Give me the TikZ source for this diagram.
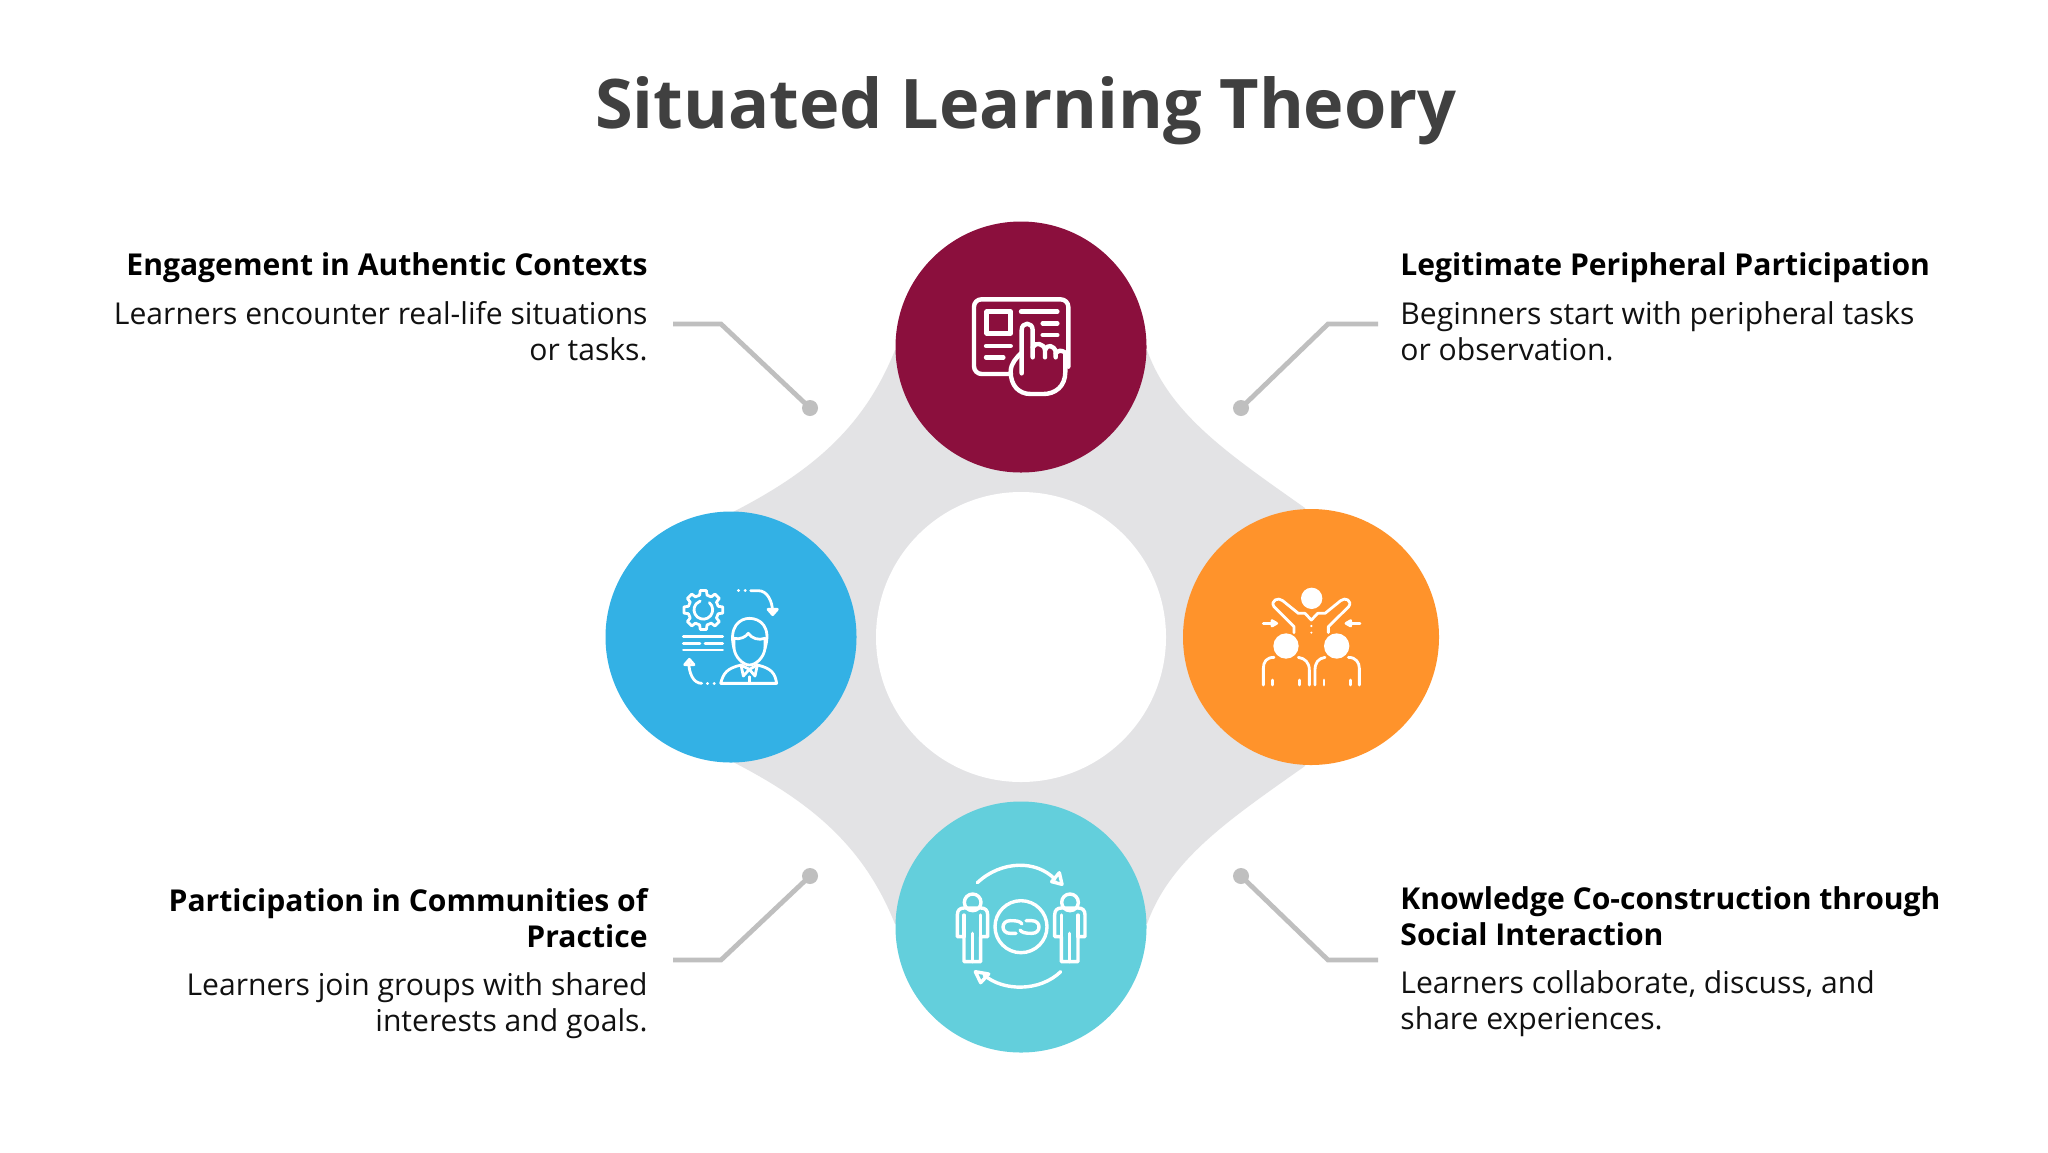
\documentclass[tikz,border=0pt]{standalone}
\usepackage{fontspec}
\setmainfont{Open Sans}
\definecolor{wine}{HTML}{8B0F3D}
\definecolor{sky}{HTML}{33B1E5}
\definecolor{amber}{HTML}{FF932B}
\definecolor{teal2}{HTML}{63CFDC}
\definecolor{hub}{HTML}{E3E3E5}
\definecolor{lead}{HTML}{BFBFBF}
\definecolor{titleink}{HTML}{404040}
\definecolor{ink}{HTML}{111111}
\tikzset{
  disc/.style={circle,inner sep=0pt,minimum size=125.5pt,draw=none},
  leaddot/.style={circle,fill=lead,inner sep=0pt,minimum size=8pt,draw=none},
  leadline/.style={draw=lead,line width=2.4pt},
  headl/.style={font=\fontsize{15.05}{18}\selectfont\bfseries,text=black,align=right,anchor=north east,inner sep=0pt},
  headr/.style={font=\fontsize{15.05}{18}\selectfont\bfseries,text=black,align=left,anchor=north west,inner sep=0pt},
  bodyl/.style={font=\fontsize{15.05}{18}\selectfont,text=ink,align=right,anchor=north east,inner sep=0pt},
  bodyr/.style={font=\fontsize{15.05}{18}\selectfont,text=ink,align=left,anchor=north west,inner sep=0pt},
  ic/.style={draw=white,line cap=round,line join=round},
  iconframe/.style={x=0.16667pt,y=-0.16667pt},
}
\begin{document}
\begin{tikzpicture}[x=0.5pt,y=-0.5pt]
\useasboundingbox (0,0) rectangle (2048,1152);
\fill[white] (0,0) rectangle (2048,1152);

\node[font=\fontsize{34.2}{38}\selectfont\bfseries,text=titleink,inner sep=0pt] (title) at (1026,111) {Situated Learning Theory};

% hub
\fill[hub] (895,350) .. controls (865,425) and (815,470) .. (733,512)
  -- (733,762) .. controls (815,804) and (865,849) .. (895,924)
  -- (1147,924) .. controls (1170,859) and (1230,819) .. (1305,766)
  -- (1305,508) .. controls (1230,455) and (1170,415) .. (1147,350) -- cycle;
\node[circle,fill=white,inner sep=0pt,minimum size=145pt] (centre) at (1021,637) {};
\node[disc,fill=wine] (top) at (1021,347) {};
\node[disc,fill=sky] (left) at (731,637) {};
\node[disc,fill=amber,minimum size=128pt] (right) at (1311,637) {};
\node[disc,fill=teal2] (bottom) at (1021,927) {};

% leaders
\node[leaddot] (d1) at (810,408) {};
\node[leaddot] (d2) at (1241,408) {};
\node[leaddot] (d3) at (810,876) {};
\node[leaddot] (d4) at (1241,876) {};
\coordinate (a1) at (673,324); \coordinate (b1) at (721,324);
\coordinate (a2) at (1378,324); \coordinate (b2) at (1328,324);
\coordinate (a3) at (673,960); \coordinate (b3) at (721,960);
\coordinate (a4) at (1378,960); \coordinate (b4) at (1328,960);
\draw[leadline] (a1) -- (b1) -- (d1.center);
\draw[leadline] (a2) -- (b2) -- (d2.center);
\draw[leadline] (a3) -- (b3) -- (d3.center);
\draw[leadline] (a4) -- (b4) -- (d4.center);

% text
\node[headl] (h1) at (648,252) {Engagement in Authentic Contexts};
\node[bodyl] (t1) at (648,301) {Learners encounter real-life situations\\or tasks.};
\node[headr] (h2) at (1400,252) {Legitimate Peripheral Participation};
\node[bodyr] (t2) at (1400,301) {Beginners start with peripheral tasks\\or observation.};
\node[headl] (h3) at (648,888) {Participation in Communities of\\Practice};
\node[bodyl] (t3) at (648,972) {Learners join groups with shared\\interests and goals.};
\node[headr] (h4) at (1400,886) {Knowledge Co-construction through\\Social Interaction};
\node[bodyr] (t4) at (1400,970) {Learners collaborate, discuss, and\\share experiences.};

% icon 1
\begin{scope}[shift={(940,270)},iconframe,ic,line width=2.2pt]
\draw (208,312) -- (125,312) arc[start angle=90,end angle=180,radius=23] -- (102,110) arc[start angle=180,end angle=270,radius=22] -- (362,88) arc[start angle=270,end angle=360,radius=23] -- (385,290);
\draw (140,125) rectangle (212,190);
\draw (243,125) -- (352,125);
\draw (308,160) -- (352,160);
\draw (308,195) -- (352,195);
\draw (138,228) -- (212,228);
\draw (138,262) -- (190,262);
\draw (245,310) -- (245,180) .. controls (245,155) and (278,155) .. (278,180) -- (278,262);
\draw (278,232) .. controls (285,215) and (312,220) .. (315,240) -- (315,262);
\draw (315,240) .. controls (320,222) and (342,225) .. (347,245) -- (347,262);
\draw (347,250) .. controls (355,240) and (365,240) .. (376,248) -- (376,305) .. controls (376,350) and (345,372) .. (310,372) -- (272,372) .. controls (235,372) and (212,345) .. (212,305) .. controls (212,280) and (230,262) .. (245,248);
\end{scope}

% icon 2
\begin{scope}[shift={(660,570)},iconframe,ic,line width=1.4pt]
\foreach \a in {0,45,...,315}{
  \draw ({130+46*cos(\a-14)},{120+46*sin(\a-14)}) -- ({130+59*cos(\a-9)},{120+59*sin(\a-9)}) -- ({130+59*cos(\a+9)},{120+59*sin(\a+9)}) -- ({130+46*cos(\a+14)},{120+46*sin(\a+14)}) -- ({130+46*cos(\a+31)},{120+46*sin(\a+31)});
}
\draw (148,98) arc[start angle=-50,end angle=250,radius=28];
\draw (235,62) -- (236,62);
\draw (255,62) -- (256,62);
\draw (272,62) -- (295,62) .. controls (320,62) and (338,90) .. (338,130);
\draw (324,118) -- (338,134) -- (352,118) -- cycle;
\draw (70,200) -- (188,200);
\draw (70,220) -- (120,220);
\draw (135,220) -- (188,220);
\draw (70,240) -- (188,240);
\draw (162,340) -- (163,340);
\draw (142,340) -- (143,340);
\draw (125,340) .. controls (100,340) and (86,310) .. (86,272);
\draw (74,284) -- (88,268) -- (102,284) -- cycle;
\draw (222,235) .. controls (205,170) and (240,145) .. (268,145) .. controls (300,145) and (335,170) .. (315,235);
\draw (222,205) .. controls (240,210) and (258,200) .. (265,190) .. controls (275,205) and (295,212) .. (315,205);
\draw (222,205) -- (222,235) .. controls (225,262) and (250,285) .. (268,285) .. controls (288,285) and (312,262) .. (315,235) -- (315,205);
\draw (182,340) -- (350,340) .. controls (345,310) and (335,295) .. (292,285) -- (268,298) -- (243,285) .. controls (200,295) and (190,310) .. (182,340);
\draw (243,285) -- (250,318) -- (268,298) -- (285,318) -- (292,285);
\draw (268,320) -- (268,340);
\end{scope}

% icon 3
\begin{scope}[shift={(1250,570)},iconframe,ic,line width=1.4pt]
\fill[white] (185,85) circle[radius=32];
\fill[white] (108,228) circle[radius=38];
\fill[white] (260,228) circle[radius=38];
\draw (132,188) -- (132,170) -- (72,110) .. controls (60,92) and (85,80) .. (98,92) -- (145,130) -- (165,130) -- (184,150) -- (203,130) -- (225,130) -- (272,92) .. controls (285,80) and (308,92) .. (296,110) -- (235,170) -- (235,188);
\fill[white] (184,168) circle[radius=3.5];
\fill[white] (184,188) circle[radius=3.5];
\draw (40,160) -- (78,160);
\draw[fill=white] (66,152) -- (80,160) -- (66,168) -- cycle;
\draw (330,160) -- (292,160);
\draw[fill=white] (302,152) -- (288,160) -- (302,168) -- cycle;
\draw (40,345) -- (40,295) .. controls (40,275) and (50,262) .. (72,262);
\draw (145,262) .. controls (165,265) and (178,278) .. (178,300) -- (178,345);
\draw (68,330) -- (68,345);
\draw (148,330) -- (148,345);
\draw (195,345) -- (195,300) .. controls (195,278) and (205,265) .. (225,262);
\draw (295,262) .. controls (318,262) and (328,278) .. (328,295) -- (328,345);
\draw (222,330) -- (222,345);
\draw (302,330) -- (302,345);
\end{scope}

% icon 4
\begin{scope}[shift={(940,850)},iconframe,ic,line width=1.7pt]
\draw (112,98) .. controls (185,30) and (290,30) .. (345,88);
\draw (335,95) -- (358,68) -- (366,103) -- cycle;
\draw (362,365) .. controls (300,425) and (190,425) .. (132,375);
\draw (106,365) -- (146,372) -- (122,398) -- cycle;
\draw (243,230) circle[radius=78];
\draw (246,222) .. controls (240,213) and (230,212) .. (210,212) .. controls (182,212) and (182,250) .. (210,250) -- (228,250);
\draw (240,240) .. controls (246,248) and (256,250) .. (276,250) .. controls (304,250) and (304,212) .. (276,212) -- (258,212);
\foreach \dx in {0,292}{
\begin{scope}[xshift=\dx*0.16667pt]
\draw (98,157) circle[radius=25];
\draw (52,260) -- (52,195) .. controls (52,180) and (60,174) .. (72,174) -- (123,174) .. controls (135,174) and (143,180) .. (143,195) -- (143,260) -- (122,260) -- (122,335) -- (72,335) -- (72,260) -- cycle;
\draw (72,195) -- (72,260);
\draw (122,195) -- (122,260);
\draw (97,250) -- (97,335);
\end{scope}
}
\end{scope}
\end{tikzpicture}
\end{document}
